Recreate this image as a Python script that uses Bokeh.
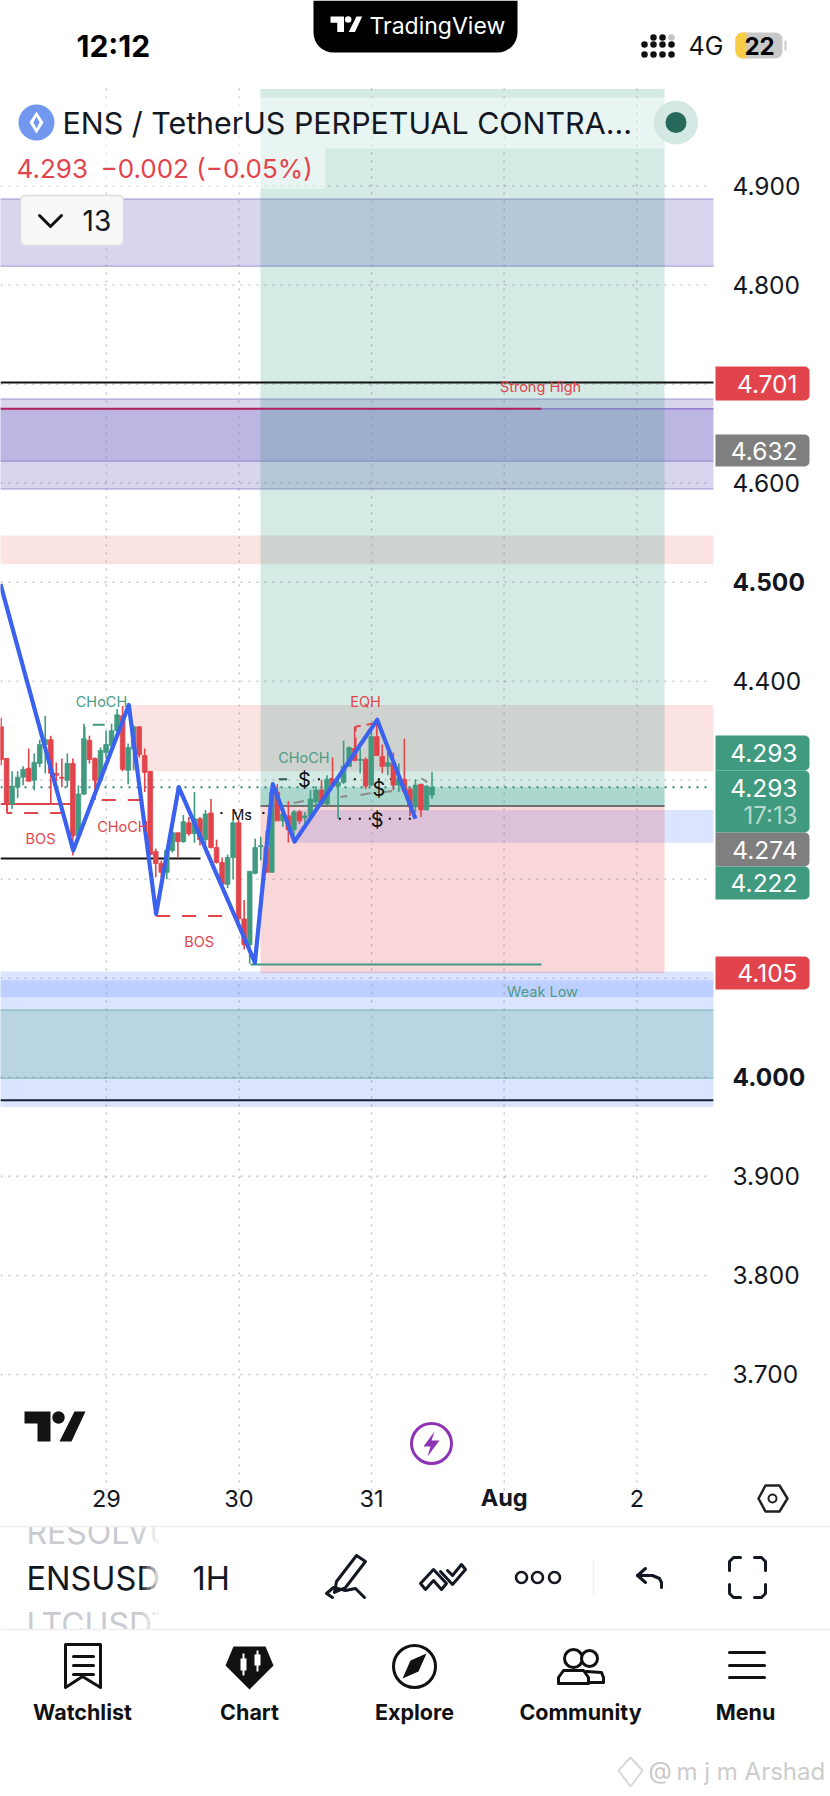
from bokeh.plotting import figure
from bokeh.models import Range1d, LinearAxis, FixedTicker, NumeralTickFormatter
from bokeh.core.properties import value
from bokeh.embed import file_html
from bokeh.resources import INLINE

# ---------- candles (hourly, Jul 28 .. Jul 31) ----------
first_bar = 28.2056
bar_open = [4.354,4.322,4.276,4.293,4.303,4.312,4.300,4.317,4.336,4.341,4.307,4.303,4.300,4.317,4.244,4.286,4.340,4.322,4.300,4.328,
            4.335,4.350,4.365,4.310,4.332,4.354,4.325,4.309,4.228,4.216,4.207,4.229,4.247,4.238,4.257,4.246,4.261,4.240,4.267,4.232,
            4.217,4.195,4.222,4.257,4.160,4.134,4.206,4.233,4.232,4.207,4.288,4.259,4.264,4.250,4.268,4.262,4.264,4.278,4.290,4.276,
            4.301,4.294,4.298,4.314,4.332,4.320,4.321,4.295,4.344,4.324,4.314,4.317,4.295,4.301,4.291,4.273,4.296,4.270,4.285]
bar_high = [4.363,4.322,4.309,4.309,4.314,4.332,4.327,4.341,4.365,4.345,4.318,4.322,4.327,4.322,4.295,4.357,4.345,4.323,4.333,4.350,
            4.357,4.372,4.375,4.337,4.355,4.354,4.332,4.309,4.231,4.219,4.231,4.249,4.247,4.265,4.263,4.288,4.263,4.270,4.281,4.240,
            4.222,4.225,4.260,4.260,4.179,4.208,4.241,4.243,4.249,4.296,4.296,4.270,4.279,4.270,4.270,4.268,4.290,4.294,4.300,4.305,
            4.323,4.303,4.340,4.334,4.354,4.332,4.323,4.354,4.360,4.336,4.329,4.328,4.317,4.342,4.293,4.301,4.296,4.295,4.308]
bar_low = [4.315,4.276,4.271,4.282,4.295,4.299,4.290,4.313,4.307,4.276,4.299,4.293,4.293,4.224,4.243,4.285,4.317,4.280,4.300,4.322,
           4.333,4.349,4.309,4.296,4.310,4.323,4.288,4.224,4.202,4.202,4.200,4.227,4.222,4.237,4.244,4.237,4.234,4.231,4.231,4.216,
           4.194,4.191,4.200,4.152,4.129,4.115,4.205,4.219,4.207,4.207,4.259,4.253,4.237,4.241,4.256,4.256,4.263,4.275,4.275,4.275,
           4.293,4.261,4.296,4.314,4.319,4.307,4.291,4.294,4.325,4.307,4.305,4.290,4.288,4.288,4.264,4.268,4.263,4.270,4.281]
bar_close = [4.321,4.276,4.294,4.303,4.311,4.299,4.318,4.336,4.341,4.307,4.305,4.302,4.317,4.244,4.286,4.342,4.321,4.300,4.330,4.336,
             4.350,4.366,4.311,4.333,4.354,4.326,4.308,4.225,4.216,4.207,4.229,4.247,4.238,4.258,4.246,4.261,4.240,4.266,4.232,4.217,
             4.195,4.222,4.257,4.160,4.134,4.208,4.232,4.234,4.207,4.288,4.259,4.266,4.250,4.268,4.259,4.264,4.281,4.290,4.276,4.301,
             4.294,4.298,4.314,4.333,4.320,4.321,4.294,4.344,4.325,4.314,4.318,4.295,4.302,4.289,4.273,4.295,4.270,4.294,4.293]

# ---------- zigzag ----------
zig_day = [28.201,28.750,29.169,29.375,29.546,30.120,30.255,30.419,31.042,31.331]
zig_price = [4.498,4.229,4.376,4.165,4.293,4.116,4.296,4.238,4.361,4.261]

# ---------- axes ----------
price_grid = [4.9,4.8,4.7,4.6,4.5,4.4,4.3,4.2,4.1,4.0,3.9,3.8,3.7]
price_labels = [4.9,4.8,4.6,4.4,3.9,3.8,3.7]
price_bold = [4.5,4.0]
day_grid = [29,30,31,32,33]
day_names = {29:"29",30:"30",31:"31",33:"2"}
day_bold = {32:"Aug"}

# ---------- zones: left, right, top, bottom ----------
zone_right = 33.578
tool_left, tool_right = 30.162, 33.209
tool_top, tool_entry, tool_stop, last_price = 4.998, 4.274, 4.105, 4.293
purple_zones = [(28.0,4.887,4.819),(28.0,4.685,4.594),(28.0,4.675,4.622)]
red_zones = [(28.0,4.547,4.518),(29.182,4.376,4.309)]
blue_zones = [(30.419,4.270,4.237),(28.0,4.107,3.970),(28.0,4.098,4.081)]
teal_zone = (28.0,4.068,3.999)

# ---------- structure lines ----------
strong_high, strong_level = 4.7015, 4.675
weak_low, weak_end = 4.114, 32.281
deep_low = 3.977
sweep_level = 4.221

red_solid_x, red_solid_y = [28.201,28.742], [4.276,4.276]
red_dash_a_x, red_dash_a_y = [28.251,28.251,28.666], [4.276,4.267,4.267]
red_dash_b_x, red_dash_b_y = [28.918,28.918,29.307], [4.300,4.280,4.280]
red_dash_c_x, red_dash_c_y = [29.375,29.961], [4.163,4.163]
grn_dash_x, grn_dash_y = [28.835,28.835,29.081], [4.342,4.356,4.356]
grn_tick_x, grn_tick_y = [30.300,30.363], [4.301,4.301]
eqh_x, eqh_y = [30.879,30.879,31.042], [4.333,4.354,4.358]
dot_low_x, dot_low_y = [30.753,31.331], [4.261,4.261]
dot_mid_x, dot_mid_y = [30.595,31.168], [4.301,4.301]
ms_x, ms_y = [29.860,30.225], [4.267,4.267]
gray_x0 = [30.414,30.765,30.916,31.092,31.375]
gray_x1 = [30.489,30.816,30.992,31.155,31.420]
gray_y0 = [4.277,4.283,4.285,4.288,4.302]
gray_y1 = [4.279,4.284,4.287,4.289,4.298]

labels_day = [28.503,28.963,29.124,29.700,30.489,30.954,30.019,32.274,32.289]
labels_price = [4.241,4.380,4.253,4.137,4.323,4.380,4.265,4.698,4.087]
labels_text = ["BOS","CHoCH","CHoCH","BOS","CHoCH","EQH","Ms","Strong High","Weak Low"]
labels_kind = ["r","g","r","r","g","r","k","r","g"]
dollar_day = [30.494,31.055,31.042]
dollar_price = [4.300,4.291,4.260]

GREEN, RED, GREY = "#409A80", "#E2444C", "#7F7F7F"
INK = "#131722"
FONT = "Inter"

# price/day calibration of the photographed page
def d_at(px): return 29 + (px - 105.9) / 132.6
def p_at(py): return 4.9 - (py - 185.5) / 990.4

p = figure(width=830, height=1796, x_range=Range1d(d_at(0), d_at(830)), y_range=Range1d(p_at(1796), p_at(0)),
           x_axis_type=None, y_axis_type=None, toolbar_location=None, output_backend="svg",
           min_border=0, outline_line_color=None, margin=(0, 0, 0, 0), background_fill_color="white")
p.extra_x_ranges["px"] = Range1d(0, 830)
p.extra_y_ranges["px"] = Range1d(1796, 0)
PX = dict(x_range_name="px", y_range_name="px")

# zones
for l, t, b in purple_zones:
    p.quad(left=l, right=zone_right, top=t, bottom=b, fill_color="#6E5CC0", fill_alpha=0.26, line_color=None)
    p.segment([l, l], [t, b], [zone_right, zone_right], [t, b], line_color="#6E5CC0", line_alpha=0.4, line_width=1.5)
for l, t, b in red_zones:
    p.quad(left=l, right=zone_right, top=t, bottom=b, fill_color="#E2444C", fill_alpha=0.15, line_color=None)
for l, t, b in blue_zones:
    p.quad(left=l, right=zone_right, top=t, bottom=b, fill_color="#2962FF", fill_alpha=0.17, line_color=None)
p.quad(left=teal_zone[0], right=zone_right, top=teal_zone[1], bottom=teal_zone[2], fill_color="#409A80", fill_alpha=0.22, line_color=None)
p.segment([teal_zone[0]] * 2, [teal_zone[1], teal_zone[2]], [zone_right] * 2, [teal_zone[1], teal_zone[2]], line_color="#409A80", line_alpha=0.4, line_width=1.5)

# position tool
p.quad(left=tool_left, right=tool_right, top=tool_top, bottom=tool_entry, fill_color="#22977F", fill_alpha=0.2, line_color=None)
p.quad(left=tool_left, right=tool_right, top=tool_entry, bottom=tool_stop, fill_color="#E2444C", fill_alpha=0.22, line_color=None)
p.quad(left=tool_left, right=tool_right, top=last_price, bottom=tool_entry, fill_color="#22977F", fill_alpha=0.22, line_color=None)
p.segment(tool_left, tool_entry, tool_right, tool_entry, line_color="#6F6F6F", line_width=2)

# grid
for g in price_grid:
    p.segment(d_at(0), g, d_at(708), g, line_color="#787B86", line_alpha=0.42, line_width=1.6, line_dash="2 6")
for d in day_grid:
    p.segment(d, p_at(88), d, p_at(1508), line_color="#787B86", line_alpha=0.42, line_width=1.6, line_dash="2 6")

# horizontal levels
p.segment(d_at(0), strong_high, zone_right, strong_high, line_color="#111111", line_width=2)
p.segment(d_at(0), strong_level, weak_end, strong_level, line_color="#B0205F", line_width=2)
p.segment(weak_end, strong_level, zone_right, strong_level, line_color="#7E57C2", line_alpha=0.4, line_width=1.5)
p.segment(d_at(0), sweep_level, 29.710, sweep_level, line_color="#111111", line_width=2.2)
p.segment(d_at(0), deep_low, zone_right, deep_low, line_color="#1A2238", line_width=2)
p.segment(30.087, weak_low, weak_end, weak_low, line_color=GREEN, line_width=2)
p.segment(d_at(0), last_price, d_at(708), last_price, line_color="#2B8A73", line_width=2, line_dash="2 6")

# structure
p.line(red_solid_x, red_solid_y, line_color=RED, line_width=2)
p.line(red_dash_a_x, red_dash_a_y, line_color=RED, line_width=2, line_dash="14 12")
p.line(red_dash_b_x, red_dash_b_y, line_color=RED, line_width=2, line_dash="14 12")
p.line(red_dash_c_x, red_dash_c_y, line_color=RED, line_width=2, line_dash="14 12")
p.line(grn_dash_x, grn_dash_y, line_color=GREEN, line_width=2, line_dash="12 10")
p.line(grn_tick_x, grn_tick_y, line_color="#2B5F50", line_width=2)
p.line(eqh_x, eqh_y, line_color=RED, line_width=2, line_dash="10 6")
p.line(dot_low_x, dot_low_y, line_color="#111111", line_width=2, line_dash="2 8")
p.line(dot_mid_x, dot_mid_y, line_color="#111111", line_width=2, line_dash="2 10")
p.line(ms_x, ms_y, line_color="#111111", line_width=2, line_dash="2 12")
p.segment(gray_x0, gray_y0, gray_x1, gray_y1, line_color="#8A8A8A", line_width=2)

# candles
bar_day = [first_bar + i / 24 for i in range(len(bar_open))]
colors = [GREEN if c >= o else RED for o, c in zip(bar_open, bar_close)]
p.segment(bar_day, bar_high, bar_day, bar_low, line_color=colors, line_width=1.6)
p.vbar(x=bar_day, width=0.84 / 24, top=bar_open, bottom=bar_close, fill_color=colors, line_color=colors, line_width=0.8)

# zigzag
p.line(zig_day, zig_price, line_color="#3B62EE", line_width=4.2, line_join="round")

# chart labels
kind = {"r": RED, "g": "#4A9D86", "k": "#111111"}
p.text(labels_day, labels_price, text=labels_text, text_color=[kind[k] for k in labels_kind], text_font=value(FONT),
       text_font_size="14.5px", text_align="center", text_baseline="middle")
p.text(dollar_day, dollar_price, text=["$"] * 3, text_color="#111111", text_font=value(FONT), text_font_size="20px",
       text_align="center", text_baseline="middle")

# axes
def yaxis(ticks, style, size):
    a = LinearAxis(fixed_location=zone_right, ticker=FixedTicker(ticks=ticks), formatter=NumeralTickFormatter(format="0.000"),
                   axis_line_color=None, major_tick_line_color=None, minor_tick_line_color=None, major_label_standoff=13,
                   major_label_text_font=FONT, major_label_text_font_size=size, major_label_text_color=INK,
                   major_label_text_font_style=style, major_label_orientation="horizontal")
    p.add_layout(a, "right")
yaxis(price_labels, "normal", "24.5px")
yaxis(price_bold, "bold", "24.5px")

def xaxis(names, style, standoff):
    a = LinearAxis(fixed_location=p_at(1482), ticker=FixedTicker(ticks=list(names)), major_label_overrides=names,
                   axis_line_color=None, major_tick_line_color=None, minor_tick_line_color=None, major_label_standoff=standoff,
                   major_label_text_font=FONT, major_label_text_font_size="23.5px", major_label_text_color=INK,
                   major_label_text_font_style=style)
    p.add_layout(a, "below")
xaxis(day_names, "normal", 1)
xaxis(day_bold, "bold", -6)

# ---------- page chrome, in page pixels ----------
def T(x, y, s, size, color=INK, style="normal", align="left", font=FONT, alpha=1.0):
    p.text([x], [y], text=[s], text_font=value(font), text_font_size=f"{size}px", text_color=color, text_alpha=alpha,
           text_font_style=style, text_align=align, text_baseline="middle", **PX)

def L(xs, ys, color=INK, w=3.0):
    p.line(xs, ys, line_color=color, line_width=w, line_join="round", line_cap="round", **PX)

def tv_logo(x0, y0, s, color):
    p.patch([x0 + s * v for v in (0, 26, 26, 13, 13, 0)], [y0 + s * v for v in (0, 0, 30, 30, 12, 12)], fill_color=color, line_color=None, **PX)
    p.patch([x0 + s * v for v in (50, 61, 47, 35)], [y0 + s * v for v in (0, 0, 30, 30)], fill_color=color, line_color=None, **PX)
    p.scatter([x0 + s * 34], [y0 + s * 6], size=12.5 * s, fill_color=color, line_color=None, **PX)

# translucent legend backing
p.quad(left=0, right=664, top=97, bottom=148, fill_color="white", fill_alpha=0.5, line_color=None, **PX)
p.quad(left=0, right=325, top=148, bottom=188, fill_color="white", fill_alpha=0.5, line_color=None, **PX)

# status bar
p.quad(left=313, right=517, top=0, bottom=52, fill_color="black", line_color=None, border_radius=(0, 0, 20, 20), **PX)
tv_logo(330, 16, 0.52, "white")
T(369, 25, "TradingView", 23, "white")
T(76, 45, "12:12", 30, "#000000", "bold")
for cx, tops in zip((644, 653, 662, 671), ((44, 54), (37, 44, 54), (37, 44, 54), (44, 54))):
    p.scatter([cx] * len(tops), list(tops), size=6.5, fill_color="#111111", line_color=None, **PX)
p.scatter([671], [37], size=6.5, fill_color="#C4C4C4", line_color=None, **PX)
T(688, 45, "4G", 25, "#111111")
p.quad(left=735, right=782, top=32, bottom=58, fill_color="#C9C9C9", line_color=None, border_radius=7, **PX)
p.quad(left=735, right=746, top=32, bottom=58, fill_color="#F7CD46", line_color=None, border_radius=(7, 0, 0, 7), **PX)
p.quad(left=784, right=786, top=40, bottom=50, fill_color="#C9C9C9", line_color=None, **PX)
T(759, 45, "22", 24, "#000000", "bold", "center")

# legend
p.scatter([36], [122], size=36, fill_color="#7197EE", line_color=None, **PX)
p.patch([36, 43, 36, 29], [111, 122, 133, 122], fill_color="white", line_color=None, **PX)
p.patch([36, 39, 36, 33], [116, 122, 128, 122], fill_color="#7197EE", line_color=None, **PX)
T(62, 122, "ENS / TetherUS PERPETUAL CONTRA...", 30.4, "#131722")
p.scatter([675.5], [122], size=44, fill_color="#CFE5E0", fill_alpha=0.9, line_color=None, **PX)
p.scatter([675.5], [122], size=21, fill_color="#26685A", line_color=None, **PX)
T(16, 168, "4.293", 26, RED)
T(100, 168, "\u22120.002 (\u22120.05%)", 26, RED)
p.quad(left=20, right=123, top=195, bottom=245, fill_color="#F8F8F8", line_color="#DDDDDD", line_width=1.5, border_radius=5, **PX)
L([39, 50, 61], [215, 226, 215], "#111111", 3)
T(82, 220, "13", 28, "#131722")

# price tags
tag_rows = [(366, 400, RED, "4.701"), (434, 466, GREY, "4.632"), (735, 770, GREEN, "4.293"), (770, 832, GREEN, "4.293"),
            (832, 866, GREY, "4.274"), (866, 899, GREEN, "4.222"), (956, 989, RED, "4.105")]
for top, bot, col, txt in tag_rows:
    p.quad(left=715, right=809, top=top, bottom=bot, fill_color=col, line_color=None, border_radius=(0, 5, 5, 0), **PX)
    cy = (top + bot) / 2 if txt != "4.293" or top == 735 else 787
    T(797, cy, txt, 24.5, "white", align="right")
T(797, 815, "17:13", 24, "#CDE5DE", align="right", alpha=0.85)

# big logo and bolt
tv_logo(24, 1411, 1.0, "#131313")
p.scatter([431], [1443], size=40, fill_color="white", line_color="#8E33B5", line_width=3, **PX)
p.patch([434, 423, 430, 427, 439, 431], [1431, 1446, 1446, 1456, 1440, 1440], fill_color="#8E33B5", line_color=None, **PX)

# time-axis hexagon
L([758, 765, 779, 787, 779, 765, 758], [1498, 1485, 1485, 1498, 1511, 1511, 1498], "#222222", 2.5)
p.scatter([772], [1498], size=8, fill_color="white", line_color="#222222", line_width=2, **PX)

# toolbar
T(26, 1532, "RESOLVUSDT", 32, "#C9CBD0")
T(26, 1578, "ENSUSDT", 32.5, "#131722")
T(26, 1624, "LTCUSDT", 32, "#C9CBD0")
for i, a in enumerate((0.2, 0.4, 0.6, 0.8)):
    p.quad(left=142 + i * 4, right=146 + i * 4, top=1510, bottom=1640, fill_color="white", fill_alpha=a, line_color=None, **PX)
p.quad(left=158, right=330, top=1512, bottom=1640, fill_color="white", line_color=None, **PX)
p.quad(left=0, right=158, top=1512, bottom=1526, fill_color="white", line_color=None, **PX)
p.quad(left=0, right=158, top=1629, bottom=1640, fill_color="white", line_color=None, **PX)
p.segment(0, 1526, 830, 1526, line_color="#EEEEEE", line_width=1.5, **PX)
p.segment(0, 1629, 830, 1629, line_color="#EEEEEE", line_width=1.5, **PX)
T(192, 1578, "1H", 32.5, "#131722")
L([356, 365, 345, 334, 336, 356], [1555, 1561, 1587, 1592, 1581, 1555], "#131722", 3)
L([332, 326, 333, 345, 355, 364], [1597, 1593, 1587, 1590, 1588, 1597], "#131722", 3)
L([420, 433, 446, 441, 433, 425, 420], [1583, 1569, 1583, 1589, 1580, 1589, 1583], "#131722", 3)
L([440, 452, 465, 461, 452, 447], [1571, 1584, 1569, 1564, 1575, 1570], "#131722", 3)
p.scatter([521, 537, 554], [1577, 1577, 1577], size=11, fill_color="white", line_color="#131722", line_width=2.6, **PX)
p.segment(593, 1560, 593, 1594, line_color="#F0F0F0", line_width=1.5, **PX)
L([645, 637, 645], [1568, 1575, 1582], "#131722", 3)
L([637, 652, 659, 661, 661], [1575, 1575, 1578, 1582, 1587], "#131722", 3)
L([729, 729, 733, 740], [1570, 1561, 1557, 1557], "#131722", 3)
L([754, 761, 765, 765], [1557, 1557, 1561, 1570], "#131722", 3)
L([729, 729, 733, 740], [1584, 1593, 1597, 1597], "#131722", 3)
L([754, 761, 765, 765], [1597, 1597, 1593, 1584], "#131722", 3)

# navigation bar
L([65, 100, 100, 82, 65, 65], [1644, 1644, 1687, 1676, 1687, 1644], "#111111", 3)
for yy in (1656, 1665, 1674):
    L([73, 93], [yy, yy], "#111111", 3)
p.patch([233, 265, 273, 249, 225], [1646, 1646, 1665, 1689, 1665], fill_color="#111111", line_color=None, **PX)
p.quad(left=[240, 254], right=[246, 260], top=[1658, 1654], bottom=[1670, 1665], fill_color="white", line_color=None, **PX)
p.segment([243, 257], [1653, 1650], [243, 257], [1675, 1671], line_color="white", line_width=2, **PX)
p.scatter([414], [1666], size=42, fill_color="white", line_color="#111111", line_width=3, **PX)
p.patch([426, 418, 402, 410], [1653, 1671, 1678, 1660], fill_color="#111111", line_color=None, **PX)
p.scatter([573, 589], [1658, 1658], size=[18, 16], fill_color="white", line_color="#111111", line_width=3, **PX)
L([586, 601, 603, 603, 590], [1671, 1672, 1677, 1682, 1682], "#111111", 3)
L([558, 558, 563, 583, 588, 588, 558], [1683, 1677, 1670, 1670, 1677, 1683, 1683], "#111111", 3)
for yy in (1652, 1665, 1677):
    L([729, 764], [yy, yy], "#111111", 3)
for cx, s in zip((82, 249, 414, 580, 745), ("Watchlist", "Chart", "Explore", "Community", "Menu")):
    T(cx, 1711, s, 21.5, "#111111", "bold", "center")

# watermark
p.patch([630, 642, 630, 618], [1757, 1770, 1786, 1770], fill_color=None, line_color="#D8D8D8", line_width=2, **PX)
T(648, 1770, "@", 24, "#C8C8C8")
T(676, 1771, "m j m Arshad", 24, "#CCCCCC")

open("out.html", "w").write(file_html(p, INLINE))
